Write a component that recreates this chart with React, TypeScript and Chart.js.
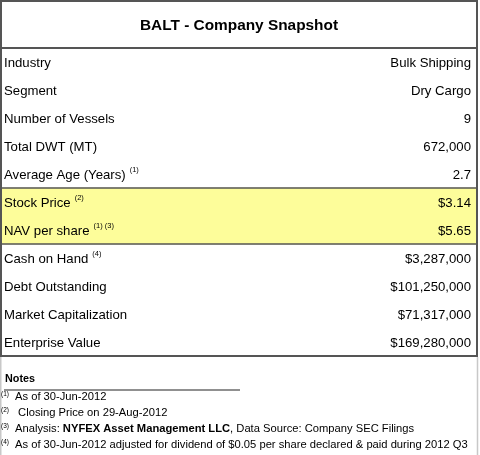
import React, { useEffect, useRef } from "react";
import { Chart, registerables } from "chart.js";

Chart.register(...registerables);

const TITLE = "BALT - Company Snapshot";
const rowLabels = [
  "Industry",
  "Segment",
  "Number of Vessels",
  "Total DWT (MT)",
  "Average Age (Years)",
  "Stock Price",
  "NAV per share",
  "Cash on Hand",
  "Debt Outstanding",
  "Market Capitalization",
  "Enterprise Value",
];
const rowValues = [
  "Bulk Shipping",
  "Dry Cargo",
  "9",
  "672,000",
  "2.7",
  "$3.14",
  "$5.65",
  "$3,287,000",
  "$101,250,000",
  "$71,317,000",
  "$169,280,000",
];
const rowNoteRefs = ["", "", "", "", "(1)", "(2)", "(1) (3)", "(4)", "", "", ""];
const highlightRows = [false, false, false, false, false, true, true, false, false, false, false];

const NOTES_TITLE = "Notes";
const noteMarks = ["(1)", "(2)", "(3)", "(4)"];
const noteTexts: [string, boolean][][] = [
  [["As of 30-Jun-2012", false]],
  [[" Closing Price on 29-Aug-2012", false]],
  [
    ["Analysis: ", false],
    ["NYFEX Asset Management LLC", true],
    [", Data Source: Company SEC Filings", false],
  ],
  [["As of 30-Jun-2012 adjusted for dividend of $0.05 per share declared & paid during 2012 Q3", false]],
];

const FONT = "'Liberation Sans', Arial, Helvetica, sans-serif";
const DARK = "#555555";
const LIGHT = "#c8c8c8";
const YELLOW = "#fdfd9a";

const tablePlugin = {
  id: "tablePlugin",
  afterDraw(chart: any) {
    const ctx = chart.ctx as CanvasRenderingContext2D;
    const yScale = chart.scales.y;
    const area = chart.chartArea;
    const W = chart.width;
    const H = chart.height;
    const step = (area.bottom - area.top) / rowLabels.length;
    ctx.save();

    // band edges
    ctx.strokeStyle = DARK;
    ctx.lineWidth = 1.5;
    let i = 0;
    while (i < highlightRows.length) {
      if (highlightRows[i]) {
        let j = i;
        while (j + 1 < highlightRows.length && highlightRows[j + 1]) j++;
        const top = yScale.getPixelForValue(i) - step / 2;
        const bot = yScale.getPixelForValue(j) + step / 2;
        ctx.beginPath();
        ctx.moveTo(0, top);
        ctx.lineTo(W - 2, top);
        ctx.moveTo(0, bot);
        ctx.lineTo(W - 2, bot);
        ctx.stroke();
        i = j + 1;
      } else i++;
    }

    // frame
    ctx.strokeStyle = DARK;
    ctx.lineWidth = 2;
    ctx.beginPath();
    ctx.moveTo(0, 1);
    ctx.lineTo(W - 2, 1);
    ctx.moveTo(1, 0);
    ctx.lineTo(1, area.bottom);
    ctx.moveTo(W - 3, 0);
    ctx.lineTo(W - 3, area.bottom);
    ctx.moveTo(0, area.top);
    ctx.lineTo(W - 2, area.top);
    ctx.moveTo(0, area.bottom);
    ctx.lineTo(W - 2, area.bottom);
    ctx.stroke();
    ctx.strokeStyle = LIGHT;
    ctx.lineWidth = 1.5;
    ctx.beginPath();
    ctx.moveTo(0.75, area.bottom + 1);
    ctx.lineTo(0.75, H);
    ctx.moveTo(W - 2.5, area.bottom + 1);
    ctx.lineTo(W - 2.5, H);
    ctx.stroke();

    // title
    ctx.fillStyle = "#000";
    ctx.textBaseline = "middle";
    ctx.textAlign = "center";
    ctx.font = `bold 15.4px ${FONT}`;
    ctx.fillText(TITLE, (W - 2) / 2, area.top / 2 + 2);

    // rows
    rowLabels.forEach((label, k) => {
      const y = yScale.getPixelForValue(k) + 1;
      ctx.textAlign = "left";
      ctx.font = `13.2px ${FONT}`;
      ctx.fillText(label, 4, y);
      const w = ctx.measureText(label).width;
      if (rowNoteRefs[k]) {
        ctx.font = `7.5px ${FONT}`;
        ctx.fillText(rowNoteRefs[k], 4 + w + 4, y - 5);
      }
      ctx.textAlign = "right";
      ctx.font = `13.2px ${FONT}`;
      ctx.fillText(rowValues[k], W - 9, y);
    });

    // notes
    const notesY = area.bottom + 23;
    ctx.textAlign = "left";
    ctx.font = `bold 10.8px ${FONT}`;
    ctx.fillText(NOTES_TITLE, 5, notesY);
    ctx.strokeStyle = "#222";
    ctx.lineWidth = 1.2;
    ctx.beginPath();
    ctx.moveTo(4, notesY + 11);
    ctx.lineTo(240, notesY + 11);
    ctx.stroke();
    noteTexts.forEach((segs, k) => {
      const y = notesY + 18 + k * 16;
      ctx.font = `6.5px ${FONT}`;
      ctx.fillText(noteMarks[k], 1, y - 3);
      let x = 15;
      segs.forEach(([t, b]) => {
        ctx.font = `${b ? "bold " : ""}11.2px ${FONT}`;
        ctx.fillText(t, x, y);
        x += ctx.measureText(t).width;
      });
    });
    ctx.restore();
  },
};

export default function App() {
  const ref = useRef<HTMLCanvasElement | null>(null);
  useEffect(() => {
    if (!ref.current) return;
    const chart = new Chart(ref.current, {
      type: "bar",
      data: {
        labels: rowLabels,
        datasets: [
          {
            data: highlightRows.map((h) => (h ? [0, 1] : null)) as any,
            backgroundColor: YELLOW,
            borderWidth: 0,
            barPercentage: 1,
            categoryPercentage: 1,
          },
        ],
      },
      options: {
        indexAxis: "y",
        animation: false,
        responsive: true,
        maintainAspectRatio: false,
        layout: { padding: { top: 48, bottom: 99, left: 0, right: 3 } },
        plugins: { legend: { display: false }, tooltip: { enabled: false }, title: { display: false } },
        scales: {
          x: { display: false, min: 0, max: 1 },
          y: { display: false, offset: true },
        },
      },
      plugins: [tablePlugin],
    });
    return () => chart.destroy();
  }, []);
  return (
    <div style={{ position: "fixed", left: 0, top: 0, width: 480, height: 455, background: "#fff" }}>
      <canvas ref={ref} />
    </div>
  );
}
